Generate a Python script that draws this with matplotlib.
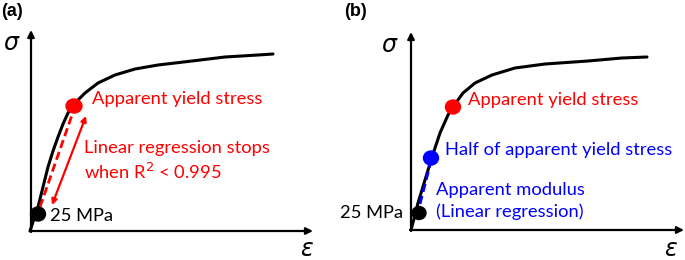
import matplotlib
matplotlib.use("Agg")
import matplotlib.pyplot as plt
from matplotlib.patches import Ellipse

plt.rcParams['font.family'] = ['Lato', 'DejaVu Sans']

W, H = 685, 260
# Curves, in pixel coordinates
curve_a_x = [30, 34, 38, 43, 48, 53, 58, 63, 68, 75, 85, 98, 115, 135, 158, 192, 225, 258, 273]
curve_a_y = [231, 219, 207, 187, 167, 151, 137, 124, 113, 103, 93, 83, 75, 69, 65, 61, 57, 55, 54]
curve_b_x = [411, 415, 418, 425, 432, 440, 448, 455, 463, 475, 492, 515, 545, 588, 622, 647]
curve_b_y = [230, 215, 203, 180, 157, 133, 115, 104, 93, 83, 75, 68, 64, 61, 58, 57]

red = '#ff0000'
blue = '#0000ff'

fig = plt.figure(figsize=(W/100, H/100), dpi=100)
ax = fig.add_axes([0, 0, 1, 1])
ax.set_xlim(0, W)
ax.set_ylim(H, 0)
ax.axis('off')

def arrow(x0, y0, x1, y1, color='black', lw=1.6, style='-|>', ms=10):
    ax.annotate('', xy=(x1, y1), xytext=(x0, y0),
                arrowprops=dict(arrowstyle=style, color=color, lw=lw,
                                mutation_scale=ms, shrinkA=0, shrinkB=0))

def dot(x, y, color, w=15, h=14):
    ax.add_patch(Ellipse((x, y), w, h, color=color, zorder=5))

fs = 13.2
# ---- Panel (a)
ax.text(1, 11, '(a)', fontsize=13, fontweight='bold', family=['Liberation Sans'], va='center')
arrow(31, 232, 31, 30)
arrow(30, 231, 313, 231)
ax.text(3, 44, r'$\sigma$', fontsize=17, va='center', ha='left')
ax.text(300, 250, r'$\varepsilon$', fontsize=17, va='center', ha='left')
ax.plot(curve_a_x, curve_a_y, color='black', lw=2.2, solid_capstyle='round')
ax.plot([40, 72], [207, 115], color=red, lw=2, ls=(0, (3, 1.5)))
arrow(52, 205, 86, 116, color=red, lw=1.6, style='<|-|>', ms=8)
dot(38, 214, 'black')
dot(74, 106, red, 16, 14)
ax.text(92, 99, 'Apparent yield stress', color=red, fontsize=fs, va='center')
ax.text(84, 148, 'Linear regression stops', color=red, fontsize=fs, va='center')
ax.text(84, 172, 'when R$^2$ < 0.995', color=red, fontsize=fs, va='center')
ax.text(50, 216, '25 MPa', color='black', fontsize=fs, va='center')

# ---- Panel (b)
ax.text(344, 11, '(b)', fontsize=13, fontweight='bold', family=['Liberation Sans'], va='center')
arrow(411, 231, 411, 32)
arrow(410, 230, 684, 230)
ax.text(381, 45, r'$\sigma$', fontsize=17, va='center', ha='left')
ax.text(664, 250, r'$\varepsilon$', fontsize=17, va='center', ha='left')
ax.plot(curve_b_x, curve_b_y, color='black', lw=2.2, solid_capstyle='round')
ax.plot([420, 430], [204, 165], color=blue, lw=2, ls=(0, (3, 1.5)))
dot(419, 213, 'black', 14, 13)
dot(431, 158, blue, 15, 14)
dot(453, 107, red, 15, 14)
ax.text(468, 100, 'Apparent yield stress', color=red, fontsize=fs, va='center')
ax.text(445, 150, 'Half of apparent yield stress', color=blue, fontsize=fs, va='center')
ax.text(436, 190, 'Apparent modulus', color=blue, fontsize=fs, va='center')
ax.text(436, 212, '(Linear regression)', color=blue, fontsize=fs, va='center')
ax.text(403, 213, '25 MPa', color='black', fontsize=fs, va='center', ha='right')

fig.savefig('out.png', dpi=100)
